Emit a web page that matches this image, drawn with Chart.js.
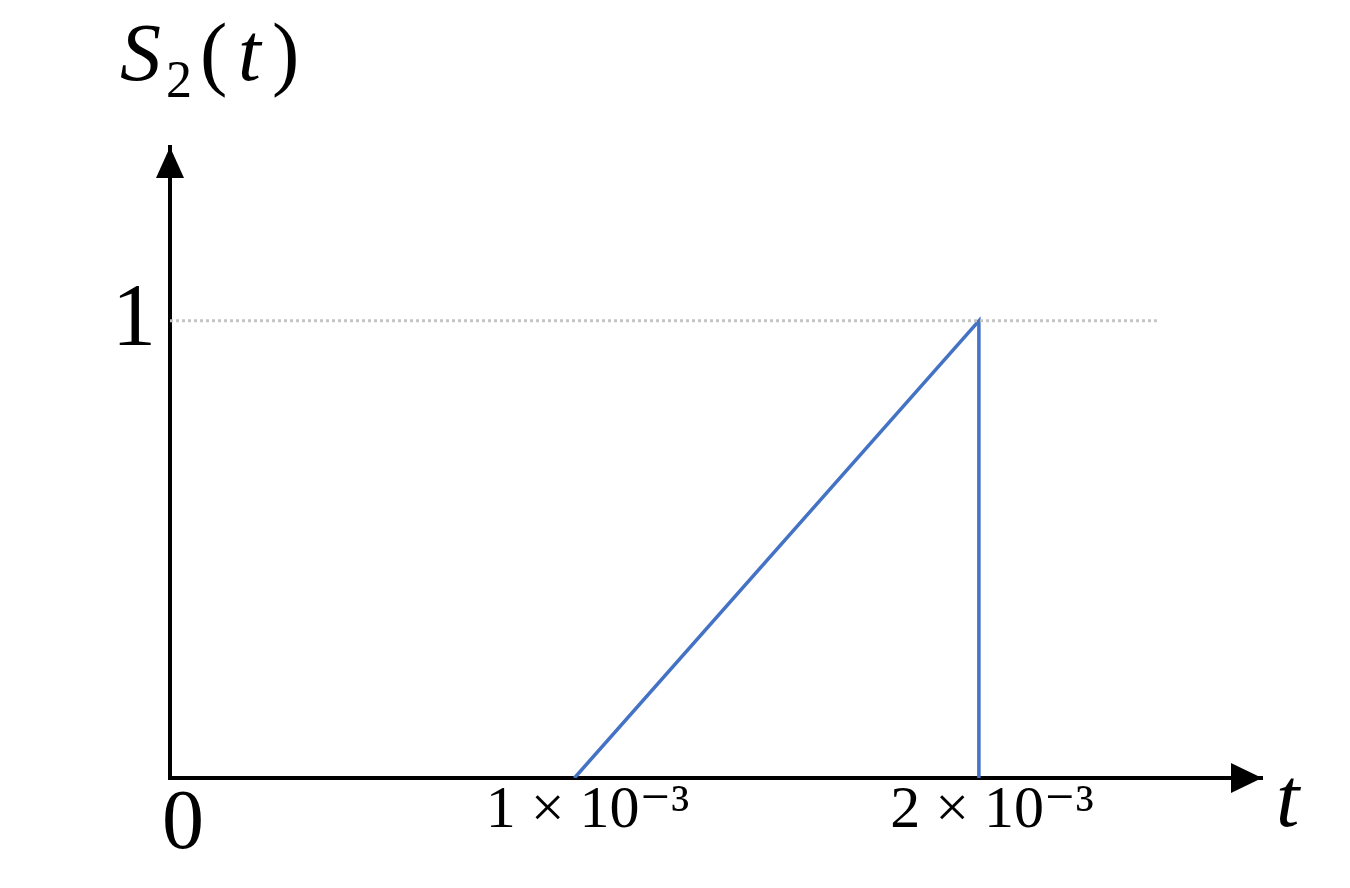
<!DOCTYPE html>
<html>
<head>
<meta charset="utf-8">
<script src="https://cdn.jsdelivr.net/npm/chart.js@4.4.1/dist/chart.umd.min.js"></script>
<style>
  html, body { margin: 0; padding: 0; background: #fff; }
  #wrap { width: 1350px; height: 888px; }
</style>
</head>
<body>
<div id="wrap"><canvas id="signalChart"></canvas></div>
<script>
// S2(t): ramp from 1e-3 up to 1 at 2e-3, then straight back down to 0
const pulseTimes = [0.001, 0.002, 0.002];
const pulseValues = [0, 1, 0];

// dotted reference level at S2 = 1
const refTimes = [0, 0.00244];
const refValues = [1, 1];

const xTickValues = [0, 0.001, 0.002];
const xTickLabels = ['0', '1 × 10⁻³', '2 × 10⁻³'];
const yTickValues = [1];
const yTickLabels = ['1'];

const serif = "'Liberation Serif', 'DejaVu Serif', serif";

function toPoints(xs, ys) {
    return xs.map((x, i) => ({ x: x, y: ys[i] }));
}

// arrows on the axes + the S2(t) and t labels
const axisDecor = {
    id: 'axisDecor',
    afterDraw(chart) {
        const ctx = chart.ctx;
        const area = chart.chartArea;
        ctx.save();
        ctx.fillStyle = '#000';

        // arrow head, vertical axis
        ctx.beginPath();
        ctx.moveTo(area.left, area.top);
        ctx.lineTo(area.left - 14, area.top + 31);
        ctx.lineTo(area.left + 14, area.top + 31);
        ctx.closePath();
        ctx.fill();

        // arrow head, horizontal axis
        ctx.beginPath();
        ctx.moveTo(area.right, area.bottom);
        ctx.lineTo(area.right - 31, area.bottom - 15);
        ctx.lineTo(area.right - 31, area.bottom + 15);
        ctx.closePath();
        ctx.fill();

        // S_2(t)
        ctx.textBaseline = 'alphabetic';
        ctx.textAlign = 'left';
        const x0 = area.left - 50;
        const base = area.top - 67;
        ctx.font = 'italic 82px ' + serif;
        ctx.fillText('S', x0, base);
        ctx.font = '52px ' + serif;
        ctx.fillText('2', x0 + 46, base + 17);
        ctx.font = '82px ' + serif;
        ctx.fillText('(', x0 + 80, base);
        ctx.font = 'italic 82px ' + serif;
        ctx.fillText('t', x0 + 118, base);
        ctx.font = '82px ' + serif;
        ctx.fillText(')', x0 + 152, base);

        // t
        ctx.font = 'italic 84px ' + serif;
        ctx.fillText('t', area.right + 14, area.bottom + 48);
        ctx.restore();
    }
};

Chart.defaults.font.family = serif;
Chart.defaults.color = '#000';

new Chart(document.getElementById('signalChart'), {
    type: 'line',
    data: {
        datasets: [
            {
                label: 'level 1',
                data: toPoints(refTimes, refValues),
                borderColor: '#c4c4c4',
                borderWidth: 3,
                borderDash: [3, 3],
                pointRadius: 0,
                tension: 0
            },
            {
                label: 'S2(t)',
                data: toPoints(pulseTimes, pulseValues),
                borderColor: '#4472C4',
                borderWidth: 3.5,
                pointRadius: 0,
                tension: 0
            }
        ]
    },
    options: {
        responsive: true,
        maintainAspectRatio: false,
        animation: false,
        layout: { padding: { top: 147, right: 88, left: 0, bottom: 0 } },
        plugins: {
            legend: { display: false },
            tooltip: { enabled: false },
            title: { display: false }
        },
        scales: {
            x: {
                type: 'linear',
                min: 0,
                max: 0.0027,
                afterBuildTicks: (scale) => {
                    scale.ticks = xTickValues.map(v => ({ value: v }));
                },
                afterFit: (scale) => { scale.height = 110; },
                grid: { display: false, drawTicks: false },
                border: { display: true, color: '#000', width: 4 },
                ticks: {
                    autoSkip: false,
                    maxRotation: 0,
                    padding: 0,
                    labelOffset: 13,
                    color: '#000',
                    callback: (v) => xTickLabels[xTickValues.indexOf(v)],
                    font: (c) => (c.tick && c.tick.value === 0)
                        ? { size: 84, lineHeight: 1.15 }
                        : { size: 60, lineHeight: 1.12 }
                }
            },
            y: {
                min: 0,
                max: 1.38,
                afterBuildTicks: (scale) => {
                    scale.ticks = yTickValues.map(v => ({ value: v }));
                },
                afterFit: (scale) => { scale.width = 170; },
                grid: { display: false, drawTicks: false },
                border: { display: true, color: '#000', width: 4 },
                ticks: {
                    padding: 14,
                    color: '#000',
                    callback: (v) => yTickLabels[yTickValues.indexOf(v)],
                    font: { size: 88 }
                }
            }
        }
    },
    plugins: [axisDecor]
});
</script>
</body>
</html>
